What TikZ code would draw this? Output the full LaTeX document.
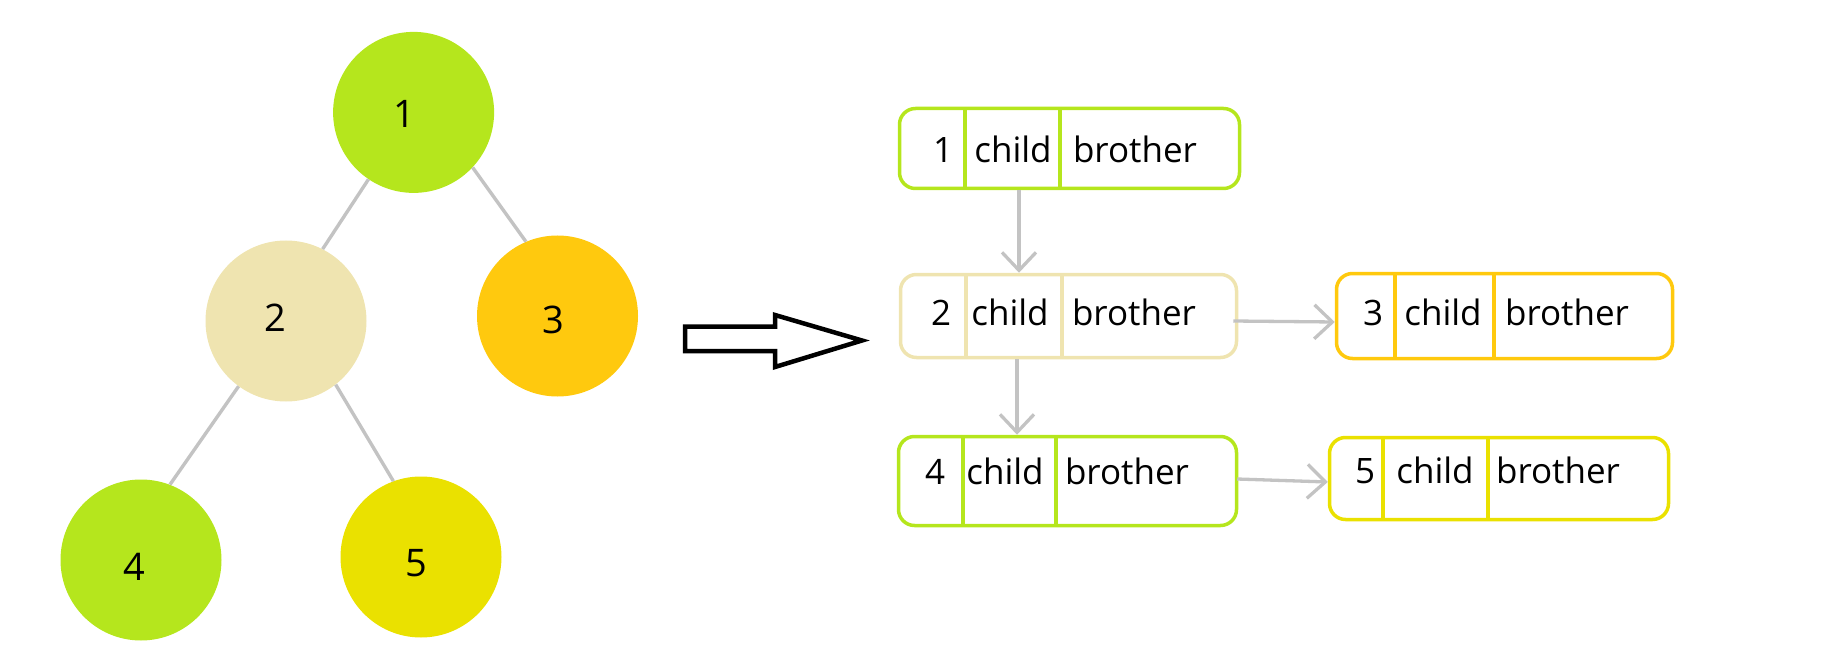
\documentclass[tikz,border=0pt]{standalone}
\usepackage{fontspec}
\setmainfont{Open Sans}
\usetikzlibrary{arrows.meta}
\definecolor{cgreen}{HTML}{B5E61D}
\definecolor{cbeige}{HTML}{EFE4B0}
\definecolor{corange}{HTML}{FFC90E}
\definecolor{cyellow}{HTML}{EAE100}
\definecolor{cgray}{HTML}{C3C3C3}
\begin{document}
\begin{tikzpicture}[x=1pt,y=-1pt,
  treenode/.style={circle,minimum size=161pt,inner sep=0pt,fill=#1},
  treelabel/.style={inner sep=0pt,font=\fontsize{38}{40}\selectfont},
  edge/.style={draw=cgray,line width=3.4pt},
  recbox/.style={draw=#1,line width=3.5pt,rounded corners=16pt,inner sep=0pt},
  divider/.style={draw=#1,line width=3.2pt},
  rectext/.style={anchor=base,inner sep=0pt,font=\fontsize{35}{37}\selectfont},
  link/.style={draw=cgray,line width=3.3pt,-{Straight Barb[length=18pt,width=34pt]}},
  bigarrow/.style={draw=black,line width=4.5pt,miter limit=10}]
\useasboundingbox (0,0) rectangle (1821,671);

% tree
\node[treenode=cgreen]  (c1) at (413.6,112.4) {};
\node[treenode=cbeige]  (c2) at (286,321) {};
\node[treenode=corange] (c3) at (557.5,316) {};
\node[treenode=cgreen]  (c4) at (141,560) {};
\node[treenode=cyellow] (c5) at (421,557) {};
\draw[edge] (c1.236.7) -- (c2.63.3);
\draw[edge] (c1.317.2) -- (c3.113.9);
\draw[edge] (c2.234.3) -- (c4.69.5);
\draw[edge] (c2.308) -- (c5.110.7);
\node[treelabel] (l1) at (404,114) {1};
\node[treelabel] (l2) at (275,318) {2};
\node[treelabel] (l3) at (553.8,320) {3};
\node[treelabel] (l4) at (134,567) {4};
\node[treelabel] (l5) at (416.7,563) {5};

% big arrow
\draw[bigarrow] (685,326.5) -- (775,326.5) -- (775,315) -- (862,340.5) -- (775,367) -- (775,351) -- (685,351) -- cycle;

% record boxes
\node[recbox=cgreen,  minimum width=340pt, minimum height=80pt] (b1) at (1069.5,148.5) {};
\node[recbox=cbeige,  minimum width=336pt, minimum height=83pt] (b2) at (1068.5,316) {};
\node[recbox=corange, minimum width=336pt, minimum height=85pt] (b3) at (1504.5,316) {};
\node[recbox=cgreen,  minimum width=338pt, minimum height=89pt] (b4) at (1067.5,481) {};
\node[recbox=cyellow, minimum width=339pt, minimum height=82pt] (b5) at (1499,478.5) {};

\draw[divider=cgreen]  (965,108.5) -- (965,188.5);
\draw[divider=cgreen]  (1060,108.5) -- (1060,188.5);
\draw[divider=cbeige]  (966,274.5) -- (966,357.5);
\draw[divider=cbeige]  (1062,274.5) -- (1062,357.5);
\draw[divider=corange] (1395,273.5) -- (1395,358.5);
\draw[divider=corange] (1494,273.5) -- (1494,358.5);
\draw[divider=cgreen]  (963,436.5) -- (963,525.5);
\draw[divider=cgreen]  (1056,436.5) -- (1056,525.5);
\draw[divider=cyellow] (1383,437.5) -- (1383,519.5);
\draw[divider=cyellow] (1488,437.5) -- (1488,519.5);

\node[rectext] (t1a) at (943,163) {1};
\node[rectext] (t1b) at (1013,163) {child};
\node[rectext] (t1c) at (1135,163) {brother};
\node[rectext] (t2a) at (941,325) {2};
\node[rectext] (t2b) at (1010,325) {child};
\node[rectext] (t2c) at (1134,325) {brother};
\node[rectext] (t3a) at (1373,325) {3};
\node[rectext] (t3b) at (1443,325) {child};
\node[rectext] (t3c) at (1567,325) {brother};
\node[rectext] (t4a) at (935,484) {4};
\node[rectext] (t4b) at (1005,484) {child};
\node[rectext] (t4c) at (1127,484) {brother};
\node[rectext] (t5a) at (1365,483) {5};
\node[rectext] (t5b) at (1435,483) {child};
\node[rectext] (t5c) at (1558,483) {brother};

% links
\draw[link] ([xshift=-50.5pt]b1.south) -- ([xshift=-49.5pt]b2.north);
\draw[link] ([xshift=-51.5pt]b2.south) -- ([xshift=-50.5pt]b4.north);
\draw[link] ([xshift=-5pt,yshift=-5pt]b2.east) -- ([yshift=-6pt]b3.west);
\draw[link] ([xshift=-1pt,yshift=2pt]b4.east) -- ([yshift=-3.5pt]b5.west);
\end{tikzpicture}
\end{document}
